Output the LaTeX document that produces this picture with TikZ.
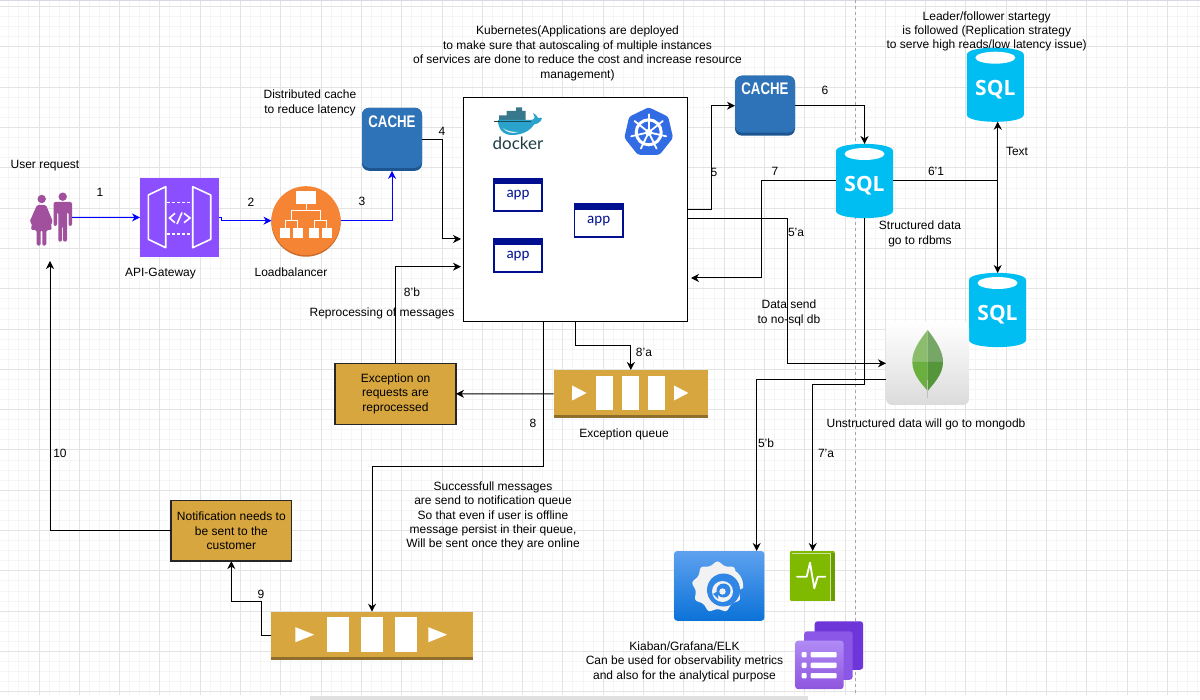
\documentclass[tikz,border=0pt]{standalone}
\usepackage{fontspec}
\setmainfont{Liberation Sans}
\newfontfamily\narrowfont[FakeStretch=0.79]{Liberation Sans}
\newfontfamily\dockerfont{Lato}
\newfontfamily\appfont{Carlito}
\newfontfamily\sqlfont{Open Sans}
\usetikzlibrary{arrows.meta,shapes.geometric}
\definecolor{gold}{HTML}{D8A63F}
\definecolor{golddark}{HTML}{8F6E2B}
\definecolor{cacheblue}{HTML}{2E73B8}
\definecolor{cachedark}{HTML}{1D5590}
\definecolor{sqlblue}{HTML}{00BEF2}
\definecolor{awspurple}{HTML}{8C4FFF}
\definecolor{lborange}{HTML}{F58534}
\definecolor{lbdark}{HTML}{C9692A}
\definecolor{appnavy}{HTML}{000F8F}
\definecolor{people}{HTML}{A0509C}
\definecolor{kubeblue}{HTML}{326CE5}
\definecolor{whaleblue}{HTML}{2AA3CC}
\definecolor{boxteal}{HTML}{38788C}
\definecolor{leafA}{HTML}{8BBD6D}
\definecolor{leafB}{HTML}{77A766}
\definecolor{leafC}{HTML}{6BB03F}
\definecolor{leafD}{HTML}{56963A}
\definecolor{grafTop}{HTML}{5EA1EF}
\definecolor{grafBot}{HTML}{0B72D8}
\definecolor{grafRing}{HTML}{2F86E4}
\definecolor{bookgreen}{HTML}{7FBA00}
\definecolor{bookedge}{HTML}{6A9D00}
\definecolor{stackback}{HTML}{6E36D8}
\definecolor{stackmid}{HTML}{8A57E6}
\definecolor{stacktop}{HTML}{B08BF5}
\definecolor{stackbot}{HTML}{8E55DE}
\tikzset{
	txt/.style={font=\fontsize{12}{14.4}\selectfont,align=center,inner sep=0pt},
	flow/.style={line width=1pt,-{Stealth[length=8pt,width=8pt,inset=2.5pt]}},
	blueflow/.style={flow,draw=blue},
	plainbox/.style={inner sep=0pt,outer sep=0pt},
	goldbox/.style={plainbox,txt,fill=gold,draw=black!85,line width=1.3pt},
	cachebox/.style={plainbox,minimum width=60pt,rounded corners=7pt},
	queuebody/.style={plainbox,fill=gold,minimum height=48pt},
	appbox/.style={plainbox,draw=appnavy,line width=1.8pt,fill=white,minimum width=48.5pt,minimum height=32.5pt},
	minorgrid/.style={draw=black!4,line width=1pt},
	majorgrid/.style={draw=black!11,line width=1pt},
}
\newcommand\sqlcan[3]{
	\fill[sqlblue] (#2-28.5,#3-30) .. controls (#2-28.5,#3-39.5) and (#2+28.5,#3-39.5) .. (#2+28.5,#3-30)
		-- (#2+28.5,#3+30) .. controls (#2+28.5,#3+39.5) and (#2-28.5,#3+39.5) .. (#2-28.5,#3+30) -- cycle;
	\fill[white] (#2,#3-27) ellipse [x radius=20,y radius=6];
	\node[plainbox,minimum width=57pt,minimum height=74pt] (#1) at (#2,#3) {};
	\node[plainbox,text=white,font=\fontsize{21}{21}\sqlfont\bfseries] (#1text) at (#2,#3+5) {SQL};
}
\newcommand\cachenode[4]{
	\node[cachebox,fill=cachedark,minimum height=#4pt] (#1) at (#2,#3) {};
	\node[cachebox,fill=cacheblue,minimum height=#4pt-3pt] (#1top) at (#2,#3-1.5) {};
	\node[plainbox,text=white,font=\fontsize{16.8}{16.8}\narrowfont\bfseries] (#1text) at (#2,#3-#4/2+13.5) {CACHE};
}
\newcommand\queuenode[4]{
	\node[queuebody,minimum width=#4pt] (#1) at (#2,#3) {};
	\fill[golddark] (#2-#4/2,#3+21) rectangle (#2+#4/2,#3+24);
	\foreach \k in {-1,0,1}
		\fill[white] (#2+\k*0.168*#4-0.055*#4,#3-18.3) rectangle (#2+\k*0.168*#4+0.055*#4,#3+16.2);
	\foreach \k in {-0.38,0.28}
		\fill[white] (#2+\k*#4,#3-8.5) -- (#2+\k*#4+0.093*#4,#3-1) -- (#2+\k*#4,#3+6.5) -- cycle;
}
\newcommand\appnode[3]{
	\node[appbox] (#1) at (#2,#3) {};
	\fill[appnavy] (#2-24.5,#3-16.5) rectangle (#2+24.5,#3-10.5);
	\node[plainbox,text=appnavy,font=\fontsize{15}{15}\appfont] (#1text) at (#2,#3+0.5) {app};
}
\begin{document}
\begin{tikzpicture}[x=1pt,y=-1pt]
	\path[use as bounding box,clip] (0,0) rectangle (1200,700);
	\fill[white] (0,0) rectangle (1200,700);
	% canvas grid
	\draw[minorgrid,step=10.075pt,xshift=-1.3pt,yshift=-6.7pt] (0,-10) grid (1220,710);
	\draw[majorgrid,step=40.3pt,xshift=-1.3pt,yshift=-6.7pt] (0,-10) grid (1220,710);
	\fill[white] (0,695) rectangle (1200,700);
	\fill[black!12] (310,696) rectangle (808,700);
	\fill[blue!25!black!15] (0,0) rectangle (1200,1);
	\draw[black!35,dashed,line width=0.8pt] (855.3,0) -- (855.3,695);

	% user and api gateway
	\node[plainbox,minimum width=43pt,minimum height=57pt] (user) at (50.5,217.3) {};
	\fill[people] (41.7,199) circle (4.2);
	\fill[people,rounded corners=1.5pt] (37,205) -- (46,205) -- (53,222) -- (51,223) -- (51.7,230) -- (46.3,230)
		-- (46.3,245.7) -- (42.3,245.7) -- (42.3,230) -- (40.7,230) -- (40.7,245.7) -- (36.7,245.7) -- (36.7,230)
		-- (31,230) -- (32,223) -- (29.5,222) -- cycle;
	\fill[people] (62.7,196.7) circle (4.2);
	\fill[people,rounded corners=2pt] (53.5,202) -- (72,202) -- (72,226) -- (68.5,226) -- (68.5,212) -- (67,212)
		-- (67,241.7) -- (63,241.7) -- (63,226) -- (62,226) -- (62,241.7) -- (58.3,241.7) -- (58.3,212) -- (57,212)
		-- (57,226) -- (53.5,226) -- cycle;
	\node[plainbox,fill=awspurple,minimum size=79pt] (api) at (179.5,217.5) {};
	\draw[white,line width=1.6pt,line join=round] (148.3,195) -- (165.7,186.7) -- (165.7,247.7) -- (148.3,239.3) -- cycle;
	\draw[white,line width=1.6pt,line join=round] (192.7,186.7) -- (210.7,195) -- (210.7,239.3) -- (192.7,247.7) -- cycle;
	\draw[white,line width=1.4pt,dash pattern=on 3pt off 2pt] (167,202.3) -- (192,202.3);
	\draw[white,line width=1.4pt,dash pattern=on 3pt off 2pt] (167,234) -- (192,234);
	\draw[white,line width=1.6pt] (175,213.3) -- (169.5,218) -- (175,222.7);
	\draw[white,line width=1.6pt] (184,213.3) -- (190,218) -- (184,222.7);
	\draw[white,line width=1.6pt] (182,212.5) -- (177,224);

	% load balancer
	\fill[lbdark] (306,222) circle (34.7);
	\node[plainbox,circle,fill=lborange,minimum size=69pt] (lb) at (306,220.7) {};
	\fill[white] (296,191) rectangle (316,204);
	\foreach \bx in {280,292.7,309,321.7}
		\fill[white] (\bx,227.7) rectangle (\bx+10,237.7);
	\draw[white,line width=1pt] (306,204) -- (306,210.7) (291,220.3) -- (291,210.7) -- (320,210.7) -- (320,220.3)
		(285,227.7) -- (285,220.3) -- (297.7,220.3) -- (297.7,227.7) (314,227.7) -- (314,220.3) -- (326.7,220.3) -- (326.7,227.7);

	% caches
	\cachenode{cacheA}{392}{139.3}{63}
	\cachenode{cacheB}{765}{105.7}{60}

	% kubernetes box
	\node[plainbox,draw=black,line width=1pt,fill=white,minimum width=224pt,minimum height=224pt] (main) at (575,210) {};
	\fill[boxteal] (499,115.5) rectangle (525.7,121) (506.7,111) rectangle (525.7,115.5) (516,107.3) rectangle (522,111);
	\fill[whaleblue] (498,120) -- (532,120) .. controls (534,120) and (536,118) .. (533,113) .. controls (537,115) and (537,117) .. (538,118)
		.. controls (540,117) and (542,118) .. (542,118.5) .. controls (541,122) and (537,124) .. (534,124.5)
		.. controls (530,131) and (522,135) .. (512,135) .. controls (503,135) and (498,129) .. (498,120) -- cycle;
	\draw[boxteal!60!black,line width=0.7pt] (494,121) -- (531,121);
	\fill[white!80!whaleblue] (503,128) .. controls (506,133) and (514,134) .. (518,132) .. controls (512,132) and (507,131) .. (503,128) -- cycle;
	\node[plainbox,text=boxteal!50!black,font=\fontsize{17}{17}\dockerfont] (dockerlogo) at (518,143.5) {docker};
	\node[plainbox,regular polygon,regular polygon sides=7,fill=kubeblue,minimum size=50pt,rounded corners=2.5pt] (kube) at (648.7,132.3) {};
	\draw[white,line width=3pt] (kube.center) circle (12.5);
	\foreach \a in {-90,-38.57,12.86,64.29,115.71,167.14,218.57}
		\draw[white,line width=1.8pt,line cap=round] (kube.center) -- ++(\a:18);
	\fill[white] (kube.center) circle (3.5);
	\appnode{appA}{518}{195}
	\appnode{appB}{598.7}{220.4}
	\appnode{appC}{518}{255.5}

	% databases
	\sqlcan{sqlMain}{864.5}{181}
	\sqlcan{sqlTop}{995.3}{84.7}
	\sqlcan{sqlLow}{997.5}{310}
	\node[plainbox,rounded corners=6pt,top color=white,bottom color=black!14,minimum width=83pt,minimum height=83.3pt] (mongo) at (927.5,363.3) {};
	\fill[leafA] (927.7,330) .. controls (918,342) and (912,352) .. (912.3,362) -- (927.7,362) -- cycle;
	\fill[leafB] (927.7,330) .. controls (937,342) and (943,352) .. (943,362) -- (927.7,362) -- cycle;
	\fill[leafC] (912.3,362) .. controls (912.5,375) and (922,384) .. (927.7,391) -- (927.7,362) -- cycle;
	\fill[leafD] (943,362) .. controls (943,375) and (933,384) .. (927.7,391) -- (927.7,362) -- cycle;
	\draw[black!25,line width=1.5pt] (927.7,380) -- (927.7,398);

	% queues and reprocessing
	\queuenode{qExc}{630.85}{394}{154.3}
	\queuenode{qNote}{372}{635.7}{201.4}
	\node[goldbox,minimum width=121pt,minimum height=61pt] (excBox) at (395.5,393.8) {Exception on\\requests are\\reprocessed};
	\node[goldbox,minimum width=120.7pt,minimum height=60.3pt] (noteBox) at (231.35,530.9) {Notification needs to\\be sent to the\\customer};

	% observability
	\node[plainbox,rounded corners=3pt,top color=grafTop,bottom color=grafBot,minimum width=90.3pt,minimum height=69.7pt] (grafana) at (719.2,585.9) {};
	\node[plainbox,star,star points=9,star point ratio=1.22,fill=white!95!black,minimum size=53pt,rounded corners=2.5pt] (gear) at (717.5,587) {};
	\fill[white!95!black] (728,568) .. controls (738,570) and (744,578) .. (743,588) -- (735,592) -- cycle;
	\fill[grafRing] (723.5,590) circle (16.5);
	\fill[white!95!black] (722.5,591.5) circle (10.5);
	\fill[grafRing] (723.5,590.5) circle (7);
	\fill[white!95!black] (722.5,591.5) circle (3.2);
	\fill[grafRing] (713,594) -- (718,591) -- (718,599) -- cycle;
	\node[plainbox,fill=bookgreen,rounded corners=1pt,minimum width=44.7pt,minimum height=49.7pt] (book) at (812.3,575.9) {};
	\fill[bookedge] (830.5,553) rectangle (834.7,600.7);
	\draw[white!60!bookgreen,line width=0.7pt] (792,553.3) -- (830.3,553.3) -- (830.3,600.7);
	\draw[white,line width=1.8pt,line cap=round,line join=round] (797,576.7) -- (806.7,576.7) -- (810,562.7) -- (814.3,588.3) -- (817.7,576.7) -- (825.3,576.7);
	\node[plainbox,fill=stackback,rounded corners=3pt,minimum size=48.5pt] (stackA) at (838.9,645.5) {};
	\node[plainbox,fill=stackmid,rounded corners=3pt,minimum size=48.5pt] (stackB) at (828.4,655.5) {};
	\node[plainbox,rounded corners=3pt,top color=stacktop,bottom color=stackbot,minimum size=48.5pt] (stackC) at (819.4,664.9) {};
	\foreach \ry in {654.7,665.3,675.7}{
		\fill[white,rounded corners=1pt] (801.7,\ry-2.7) rectangle (806.7,\ry+2.7);
		\fill[white,rounded corners=1pt] (810.7,\ry-2.7) rectangle (836.7,\ry+2.7);
	}

	% ports and bends
	\coordinate (b2) at (221,220.7);
	\coordinate (b4) at (442.7,239);
	\coordinate (port4) at (461,239);
	\coordinate (port8b) at (461,266.7);
	\coordinate (port5) at (687,210);
	\coordinate (b5) at (711,105.7);
	\coordinate (b6) at (864.5,105.7);
	\coordinate (b7) at (761.7,278);
	\coordinate (port7) at (691,278);
	\coordinate (split) at (997.7,181);
	\coordinate (port5a) at (687,218.3);
	\coordinate (b5a) at (787,363.3);
	\coordinate (mongoOut) at (886,379.3);
	\coordinate (grafanaIn) at (756.7,551);
	\coordinate (b7a) at (812.7,385);
	\coordinate (port8a) at (575.3,322);
	\coordinate (b8a) at (630.85,346);
	\coordinate (port8) at (543.3,322);
	\coordinate (b8) at (372,467);
	\coordinate (b9) at (261,601.7);
	\coordinate (userIn) at (50,261);

	% connectors
	\draw[blueflow] (user.east) -- (api.west);
	\draw[blueflow] (api.east) -| (b2) -- (lb.west);
	\draw[blueflow] (lb.east) -| (cacheA.south);
	\draw[flow] (cacheA.east) -| (b4) -- (port4);
	\draw[flow] (excBox.north) |- (port8b);
	\draw[flow] (port5) -| (b5) -- (cacheB.west);
	\draw[flow] (cacheB.east) -- (b6) -- (sqlMain.north);
	\draw[flow] (sqlMain.west) -| (b7) -- (port7);
	\draw[line width=1pt] (sqlMain.east) -- (split);
	\draw[flow] (split) -- (split |- sqlTop.south);
	\draw[flow] (split) -- (split |- sqlLow.north);
	\draw[flow] (port5a) -| (b5a) -- (mongo.west);
	\draw[flow] (mongoOut) -| (grafanaIn);
	\draw[flow] (sqlMain.south) |- (b7a) -- (b7a |- book.north);
	\draw[flow] (port8a) |- (b8a) -- (qExc.north);
	\draw[flow] (qExc.west) -- (excBox.east);
	\draw[flow] (port8) |- (b8) -- (qNote.north);
	\draw[flow] (qNote.west) -| (b9) -| (noteBox.south);
	\draw[flow] (noteBox.west) -| (userIn);

	% labels
	\node[txt] (lblUser) at (45,165.5) {User request};
	\node[txt] (lblCache) at (310,103) {Distributed cache\\to reduce latency};
	\node[txt] (lblApi) at (160.5,273.5) {API-Gateway};
	\node[txt] (lblLb) at (291,272) {Loadbalancer};
	\node[txt] (lblKube) at (577.5,53.5) {Kubernetes(Applications are deployed\\to make sure that autoscaling of multiple instances\\of services are done to reduce the cost and increase resource\\management)};
	\node[txt] (lblLeader) at (986.7,31.5) {Leader/follower startegy\\is followed (Replication strategy\\to serve high reads/low latency issue)};
	\node[txt] (lblRdbms) at (920,234) {Structured data\\go to rdbms};
	\node[txt] (lblMongo) at (926,424.5) {Unstructured data will go to mongodb};
	\node[txt] (lblNosql) at (789,313) {Data send\\to no-sql db};
	\node[txt] (lblRepro) at (382,313.5) {Reprocessing of messages};
	\node[txt] (lblExc) at (624,434.5) {Exception queue};
	\node[txt] (lblNote) at (493,516) {Successfull messages\\are send to notification queue\\So that even if user is offline\\message persist in their queue,\\Will be sent once they are online};
	\node[txt] (lblObs) at (684.5,661.5) {Kiaban/Grafana/ELK\\Can be used for observability metrics\\and also for the analytical purpose};
	\node[txt] (numA) at (100,192) {1};
	\node[txt] (numB) at (251,202) {2};
	\node[txt] (numC) at (362,201) {3};
	\node[txt] (numD) at (442,131) {4};
	\node[txt] (numE) at (714,172) {5};
	\node[txt] (numF) at (825,90) {6};
	\node[txt] (numG) at (775,171) {7};
	\node[txt] (numH) at (533,423) {8};
	\node[txt] (numI) at (261,594) {9};
	\node[txt] (numJ) at (60,453) {10};
	\node[txt] (numSixOne) at (936,171) {6'1};
	\node[txt] (numFiveA) at (796,232) {5'a};
	\node[txt] (numFiveB) at (766,443) {5'b};
	\node[txt] (numSevenA) at (826,453) {7'a};
	\node[txt] (numEightA) at (644,352) {8'a};
	\node[txt] (numEightB) at (412,292) {8'b};
	\node[txt] (lblText) at (1017,151) {Text};
\end{tikzpicture}
\end{document}
